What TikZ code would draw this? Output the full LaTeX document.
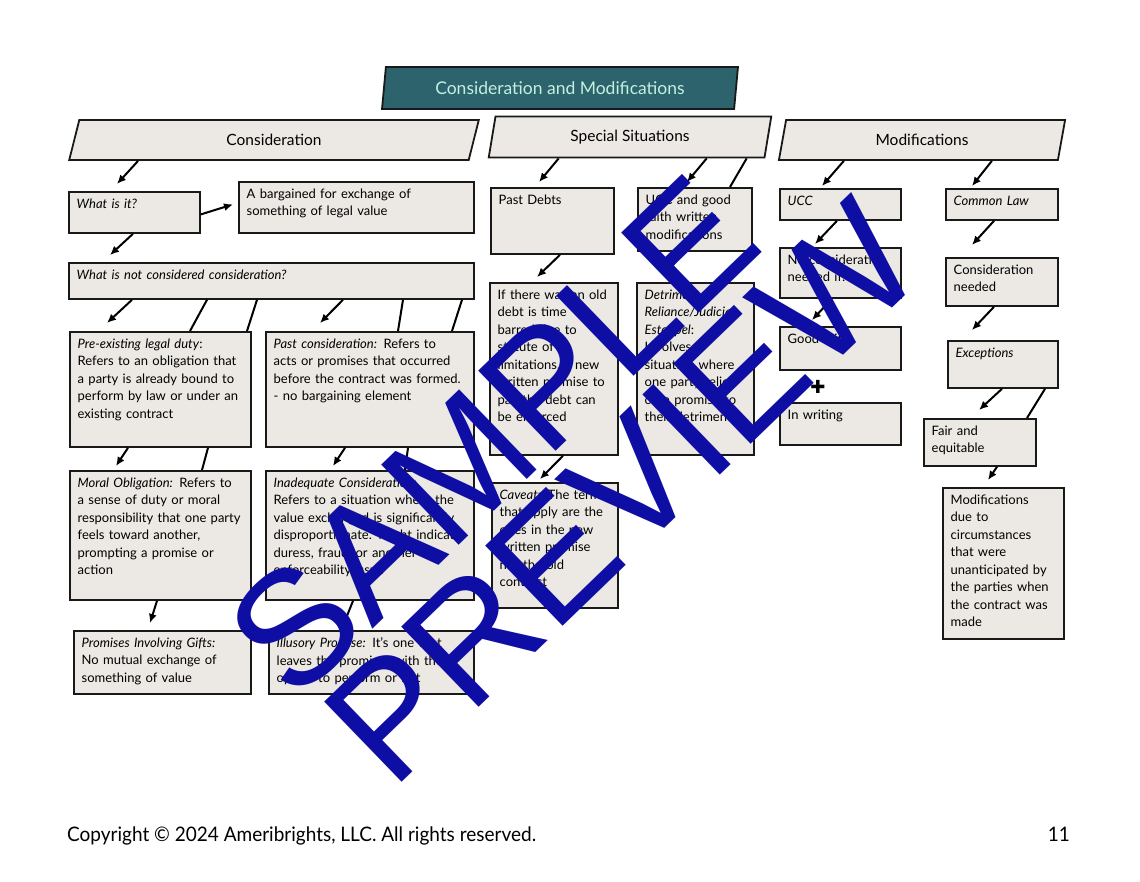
\documentclass[tikz,border=0pt]{standalone}
\usepackage{fontspec}
\setmainfont{Lato}
\newfontfamily\footfont[FakeStretch=0.95]{Lato}
\newfontfamily\wmfont{Liberation Sans}
\newfontfamily\symfont{DejaVu Sans}
\usetikzlibrary{arrows.meta, shapes.geometric}
\definecolor{boxfill}{RGB}{236,233,228}
\definecolor{titlefill}{RGB}{44,99,108}
\definecolor{titletext}{RGB}{196,240,224}
\definecolor{wmblue}{RGB}{14,14,164}
\tikzset{>={Latex[length=9pt,width=8pt]}}
\tikzset{
  hdr/.style={trapezium, trapezium left angle=78, trapezium right angle=102,
    trapezium stretches, draw=black!90, line width=1.8pt, fill=boxfill,
    font=\fontsize{15.5}{18}\selectfont, inner sep=0pt},
  cbox/.style={draw=black!90, line width=1.8pt, fill=boxfill, anchor=north west, inner sep=0pt},
  ctext/.style={anchor=north west, inner sep=0pt, align=left, font=\fontsize{13}{17.5}\selectfont},
  arr/.style={->, line width=2pt},
  tie/.style={line width=2pt},
  mark text/.style={text=wmblue, rotate=44, font=\wmfont\fontsize{162}{162}\selectfont}
}
% box: name, x, y, width, height, text
\newcommand{\cnode}[6]{%
  \node[cbox, minimum width=#4pt, minimum height=#5pt] (#1) at (#2,#3) {};
  \node[ctext, text width=#4pt] (#1t) at ([xshift=8.5pt,yshift=-7.5pt]#1.north west) {#6};}

\begin{document}
\begin{tikzpicture}[x=1pt,y=-1pt]
  \fill[white] (0,0) rectangle (1140,881);
  \useasboundingbox (0,0) rectangle (1140,881);

  % headers
  \node[hdr, fill=titlefill, text=titletext, font=\fontsize{17.5}{20}\selectfont, minimum width=356pt, minimum height=42pt] (title) at (560,88) {Consideration and Modifications};
  \node[hdr, minimum width=410pt, minimum height=40pt] (hcons) at (274,140) {Consideration};
  \node[hdr, minimum width=283pt, minimum height=41pt] (hspec) at (630,137) {Special Situations};
  \node[hdr, minimum width=287pt, minimum height=40pt] (hmod) at (922,140) {Modifications};

  % consideration column
  \cnode{whatis}{68}{191}{131}{41}{\textit{What is it?}}
  \cnode{bargain}{238}{181}{235}{51}{A bargained for exchange of\\something of legal value}
  \cnode{whatnot}{68}{262}{405}{36}{\textit{What is not considered consideration?}}
  \cnode{preduty}{69}{331}{181}{115}{\textit{Pre-existing legal duty}:\\Refers to an obligation that\\a party is already bound to\\perform by law or under an\\existing contract}
  \cnode{pastcons}{265}{331}{208}{115}{\textit{Past consideration:} Refers to\\acts or promises that occurred\\before the contract was formed.\\- no bargaining element}
  \cnode{moral}{69}{470}{181}{129}{\textit{Moral Obligation:} Refers to\\a sense of duty or moral\\responsibility that one party\\feels toward another,\\prompting a promise or\\action}
  \cnode{inadequate}{265}{470}{208}{129}{\textit{Inadequate Consideration:}\\Refers to a situation where the\\value exchanged is significantly\\disproportionate. Might indicate\\duress, fraud, or another\\enforceability issue}
  \cnode{gifts}{73}{630}{177}{63}{\textit{Promises Involving Gifts:}\\No mutual exchange of\\something of value}
  \cnode{illusory}{268}{630}{205}{63}{\textit{Illusory Promise:} It's one that\\leaves the promisor with the\\option to perform or not}

  % special situations column
  \cnode{pastdebts}{490}{187}{123}{66}{Past Debts}
  \cnode{uccgood}{637}{187}{114}{63}{UCC and good\\faith written\\modifications}
  \cnode{olddebt}{489}{282}{128}{172}{If there was an old\\debt is time\\barred due to\\statute of\\limitations, a new\\written promise to\\pay the debt can\\be enforced}
  \cnode{detriment}{636}{282}{117}{172}{\textit{Detrimental}\\\textit{Reliance/Judicial}\\\textit{Estoppel}:\\Involves a\\situation where\\one party relies\\on a promise to\\their detriment}
  \cnode{caveat}{491}{482}{126}{125}{\textit{Caveat}: The terms\\that apply are the\\ones in the new\\written promise\\not the old\\contract}

  % modifications column
  \cnode{ucc}{779}{188}{121}{31}{\textit{UCC}}
  \cnode{commonlaw}{945}{188}{112}{31}{\textit{Common Law}}
  \cnode{nocons}{779}{247}{121}{50}{No consideration\\needed if:}
  \cnode{consneeded}{945}{257}{112}{48}{Consideration\\needed}
  \cnode{goodfaith}{779}{326}{121}{43}{Good faith}
  \node[font=\symfont\fontsize{18}{18}\selectfont] (plus) at (818,387) {✚};
  \cnode{inwriting}{779}{402}{121}{42}{In writing}
  \cnode{exceptions}{947}{340}{110}{47}{\textit{Exceptions}}
  \cnode{fair}{923}{418}{112}{47}{Fair and\\equitable}
  \cnode{moddue}{942}{487}{121}{151}{Modifications\\due to\\circumstances\\that were\\unanticipated by\\the parties when\\the contract was\\made}

  % connectors
  \draw[arr] ([xshift=70pt]hcons.bottom left corner) -- ([xshift=49pt,yshift=7pt]whatis.north west);
  \draw[arr] ([yshift=-2pt]whatis.east) -- ([xshift=-5pt,yshift=3pt]bargain.west);
  \draw[arr] ([xshift=65pt]whatis.south west) -- ([xshift=42pt,yshift=7pt]whatnot.north west);
  \draw[arr] ([xshift=64pt]whatnot.south west) -- ([xshift=38pt,yshift=8pt]preduty.north west);
  \draw[tie] ([xshift=139pt]whatnot.south west) -- ([xshift=121pt]preduty.north west);
  \draw[tie] ([xshift=189pt]whatnot.south west) -- ([xshift=178pt]preduty.north west);
  \draw[arr] ([xshift=275pt]whatnot.south west) -- ([xshift=55pt,yshift=8pt]pastcons.north west);
  \draw[tie] ([xshift=335pt]whatnot.south west) -- ([xshift=133pt]pastcons.north west);
  \draw[tie] ([xshift=394pt]whatnot.south west) -- ([xshift=187pt]pastcons.north west);
  \draw[arr] ([xshift=59pt]preduty.south west) -- ([xshift=47pt,yshift=4pt]moral.north west);
  \draw[tie] ([xshift=139pt]preduty.south west) -- ([xshift=133pt]moral.north west);
  \draw[arr] ([xshift=80pt]pastcons.south west) -- ([xshift=68pt,yshift=4pt]inadequate.north west);
  \draw[tie] ([xshift=143pt]pastcons.south west) -- ([xshift=140pt]inadequate.north west);
  \draw[arr] ([xshift=88pt]moral.south west) -- ([xshift=77pt,yshift=7pt]gifts.north west);
  \draw[arr] ([xshift=88pt]inadequate.south west) -- ([xshift=75pt,yshift=4pt]illusory.north west);

  \draw[arr] ([xshift=71pt]hspec.bottom left corner) -- ([xshift=49pt,yshift=5pt]pastdebts.north west);
  \draw[arr] ([xshift=219pt]hspec.bottom left corner) -- ([xshift=50pt,yshift=5pt]uccgood.north west);
  \draw[tie] ([xshift=259pt]hspec.bottom left corner) -- ([xshift=93pt]uccgood.north west);
  \draw[arr] ([xshift=70pt]pastdebts.south west) -- ([xshift=48pt,yshift=5pt]olddebt.north west);
  \draw[arr] ([xshift=45pt]uccgood.south west) -- ([xshift=29pt,yshift=5pt]detriment.north west);
  \draw[arr] ([xshift=74pt]olddebt.south west) -- ([xshift=49pt,yshift=3pt]caveat.north west);

  \draw[arr] ([xshift=66pt]hmod.bottom left corner) -- ([xshift=43pt,yshift=2pt]ucc.north west);
  \draw[arr] ([xshift=214pt]hmod.bottom left corner) -- ([xshift=27pt,yshift=2pt]commonlaw.north west);
  \draw[arr] ([xshift=58pt]ucc.south west) -- ([xshift=36pt,yshift=3pt]nocons.north west);
  \draw[arr] ([xshift=49pt]commonlaw.south west) -- ([xshift=27pt,yshift=12pt]consneeded.north west);
  \draw[arr] ([xshift=53pt]nocons.south west) -- ([xshift=33pt,yshift=6pt]goodfaith.north west);
  \draw[arr] ([xshift=49pt]consneeded.south west) -- ([xshift=25pt,yshift=10pt]exceptions.north west);
  \draw[arr] ([xshift=55pt]exceptions.south west) -- ([xshift=56pt,yshift=8pt]fair.north west);
  \draw[tie] ([xshift=98pt]exceptions.south west) -- ([xshift=104pt]fair.north west);
  \draw[arr] ([xshift=74pt]fair.south west) -- ([xshift=46pt,yshift=7pt]moddue.north west);

  % footer
  \node[anchor=base west, inner sep=0pt, font=\footfont\fontsize{20}{22}\selectfont] (copy) at (67,841) {Copyright © 2024 Ameribrights, LLC. All rights reserved.};
  \node[anchor=base east, inner sep=0pt, font=\footfont\fontsize{20}{22}\selectfont] (page) at (1070,841) {11};

  % watermark
  \node[mark text] (sample) at (492,436) {SAMPLE};
  \node[mark text] (preview) at (622,492) {PREVIEW};
\end{tikzpicture}
\end{document}
